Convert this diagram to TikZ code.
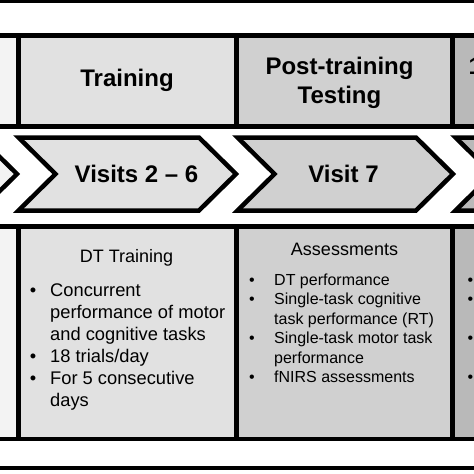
\documentclass[tikz,border=0pt]{standalone}
\usepackage{fontspec}
\setmainfont{Liberation Sans}
\definecolor{ga}{HTML}{F3F3F3}
\definecolor{gb}{HTML}{E1E1E1}
\definecolor{gc}{HTML}{D0D0D0}
\definecolor{gd}{HTML}{B9B9B9}
\begin{document}
\begin{tikzpicture}[x=1pt,y=-1pt,line join=miter,
  box/.style={draw=black,line width=4.5pt},
  hd/.style={font=\fontsize{24}{29}\selectfont\bfseries,inner sep=0pt,anchor=base},
  ttl/.style={font=\fontsize{18}{22}\selectfont,inner sep=0pt,anchor=base},
  lt/.style={font=\fontsize{18.3}{22}\selectfont,inner sep=0pt,anchor=base west},
  rt/.style={font=\fontsize{16}{19.5}\selectfont,inner sep=0pt,anchor=base west},
  lb/.style={font=\fontsize{18.3}{22}\selectfont,inner sep=0pt,anchor=base},
  rb/.style={font=\fontsize{16}{19.5}\selectfont,inner sep=0pt,anchor=base}]
\useasboundingbox (0,0) rectangle (474,474);
\clip (0,0) rectangle (474,474);
\fill[white] (0,0) rectangle (474,474);
% lines of rows above and below
\draw[line width=4.5pt] (-10,0.5) -- (490,0.5);
\draw[line width=3.5pt] (-10,468) -- (490,468);
% header row
\draw[box,fill=ga] (-30,35.5) rectangle (18.5,126.5);
\draw[box,fill=gb] (18.5,35.5) rectangle (236.5,126.5);
\draw[box,fill=gc] (236.5,35.5) rectangle (452.5,126.5);
\draw[box,fill=gd] (452.5,35.5) rectangle (520,126.5);
\node[hd] (tr) at (127,86) {Training};
\node[hd] (pt1) at (339.5,74) {Post-training};
\node[hd] (pt2) at (339.5,103) {Testing};
\node[hd,anchor=base west] (nx) at (468.5,74) {1};
% chevron row
\draw[box,fill=ga] (-250,137.5) -- (-20,137.5) -- (17,174) -- (-20,210.5) -- (-250,210.5) -- cycle;
\draw[box,fill=gb] (18.5,137.5) -- (199,137.5) -- (236,174) -- (199,210.5) -- (18.5,210.5) -- (55.5,174) -- cycle;
\draw[box,fill=gc] (237.5,137.5) -- (416,137.5) -- (453,174) -- (416,210.5) -- (237.5,210.5) -- (274.5,174) -- cycle;
\draw[box,fill=gd] (455.5,137.5) -- (700,137.5) -- (700,210.5) -- (455.5,210.5) -- (492.5,174) -- cycle;
\node[hd] (v26) at (136.5,182) {Visits 2 – 6};
\node[hd] (v7) at (343.5,182) {Visit 7};
% bottom row
\draw[box,fill=ga] (-30,226.5) rectangle (18.5,439);
\draw[box,fill=gb] (18.5,226.5) rectangle (236.5,439);
\draw[box,fill=gc] (236.5,226.5) rectangle (452.5,439);
\draw[box,fill=gd] (452.5,226.5) rectangle (520,439);
% DT training
\node[ttl] (dtt) at (126.5,262.5) {DT Training};
\node[lb] (lb1) at (33,296) {•};
\node[lt] (l1) at (50,296) {Concurrent};
\node[lt] (l2) at (50,318) {performance of motor};
\node[lt] (l3) at (50,340) {and cognitive tasks};
\node[lb] (lb2) at (33,362) {•};
\node[lt] (l4) at (50,362) {18 trials/day};
\node[lb] (lb3) at (33,384) {•};
\node[lt] (l5) at (50,384) {For 5 consecutive};
\node[lt] (l6) at (50,406) {days};
% Assessments
\node[ttl] (asm) at (344.5,255) {Assessments};
\node[rb] (rb1) at (252,285) {•};
\node[rt] (r1) at (274,285) {DT performance};
\node[rb] (rb2) at (252,304.5) {•};
\node[rt] (r2) at (274,304.5) {Single-task cognitive};
\node[rt] (r3) at (274,324) {task performance (RT)};
\node[rb] (rb3) at (252,343.5) {•};
\node[rt] (r4) at (274,343.5) {Single-task motor task};
\node[rt] (r5) at (274,363) {performance};
\node[rb] (rb4) at (252,382.5) {•};
\node[rt] (r6) at (274,382.5) {fNIRS assessments};
% next box bullets
\node[rb] (nb1) at (470.5,285) {•};
\node[rb] (nb2) at (470.5,304.5) {•};
\node[rb] (nb3) at (470.5,343.5) {•};
\node[rb] (nb4) at (470.5,382.5) {•};
\end{tikzpicture}
\end{document}
